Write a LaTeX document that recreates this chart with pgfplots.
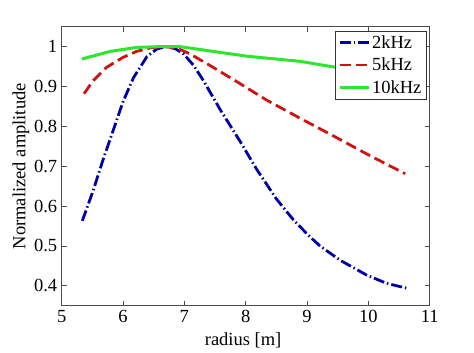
\documentclass[border=0pt]{standalone}
\usepackage{pgfplots}
\pgfplotsset{compat=1.18}
\usepackage{fontspec}
\setmainfont{Liberation Serif}
\definecolor{cblue}{RGB}{0,0,165}
\definecolor{cred}{RGB}{205,20,20}
\definecolor{cgreen}{RGB}{45,230,45}
\newcommand{\bigf}{\fontsize{18.5}{21}\selectfont}
\begin{document}
\begin{tikzpicture}
\begin{axis}[
  at={(0pt,0pt)}, anchor=south west,
  scale only axis, width=368pt, height=279pt,
  xmin=5, xmax=11, ymin=0.35, ymax=1.05,
  xtick={5,6,7,8,9,10,11},
  ytick={0.4,0.5,0.6,0.7,0.8,0.9,1},
  yticklabels={0.4,0.5,0.6,0.7,0.8,0.9,1},
  tick align=inside, major tick length=5pt,
  tick style={color=black!70, line width=0.6pt},
  axis line style={color=black!70, line width=0.8pt},
  /pgf/number format/assume math mode=true,
  ticklabel style={font=\bigf},
  xticklabel style={yshift=-1pt},
  yticklabel style={xshift=-1pt},
  xlabel={radius [m]}, ylabel={Normalized amplitude},
  xlabel style={at={(axis description cs:0.493,-0.123)}, anchor=center},
  ylabel style={at={(axis description cs:-0.111,0.5)}, anchor=center},
  label style={font=\bigf},
  legend style={at={(rel axis cs:1,1)}, anchor=north east, xshift=-3.5pt, yshift=-4pt,
    draw=black!80, line width=0.6pt, font=\bigf,
    inner sep=2.5pt, row sep=4pt, cells={anchor=west}},
  legend cell align=left,
  legend image code/.code={\draw[#1] (0pt,0pt) -- (29pt,0pt);},
]
\addplot[cblue, line width=2.8pt, dash pattern=on 11pt off 3pt on 1.5pt off 3pt] coordinates {
(5.336,0.563) (5.516,0.640) (5.678,0.718) (5.84,0.790) (6.0,0.862) (6.17,0.922)
(6.39,0.975) (6.55,0.994) (6.7,1.0) (6.85,0.995) (6.98,0.983) (7.15,0.953)
(7.31,0.915) (7.58,0.843) (7.91,0.762) (8.18,0.692) (8.5,0.618) (8.78,0.565)
(9.02,0.527) (9.21,0.500) (9.54,0.464) (9.97,0.427) (10.3,0.406) (10.65,0.393)
};
\addlegendentry{2kHz}
\addplot[cred, line width=2.8pt, dash pattern=on 11pt off 5pt] coordinates {
(5.364,0.882) (5.516,0.915) (5.73,0.948) (6.0,0.973) (6.22,0.988) (6.45,0.997)
(6.7,1.0) (6.9,0.995) (7.09,0.982) (7.47,0.948) (7.91,0.907) (8.34,0.866)
(8.94,0.816) (9.43,0.776) (9.97,0.731) (10.6,0.681)
};
\addlegendentry{5kHz}
\addplot[cgreen, line width=3pt] coordinates {
(5.33,0.969) (5.79,0.988) (6.22,0.998) (6.6,1.0) (6.93,1.0) (7.47,0.988)
(8.02,0.976) (8.89,0.963) (9.43,0.949) (10.0,0.935) (10.65,0.918)
};
\addlegendentry{10kHz}
\node[anchor=base east, inner sep=0pt, font=\bigf] at (axis description cs:0.995,-0.160) {x 10$^{\textrm{-5}}$};
\end{axis}
\pgfresetboundingbox
\path (-61.7pt,-47.3pt) rectangle (412.3pt,305.7pt);
\end{tikzpicture}
\end{document}
